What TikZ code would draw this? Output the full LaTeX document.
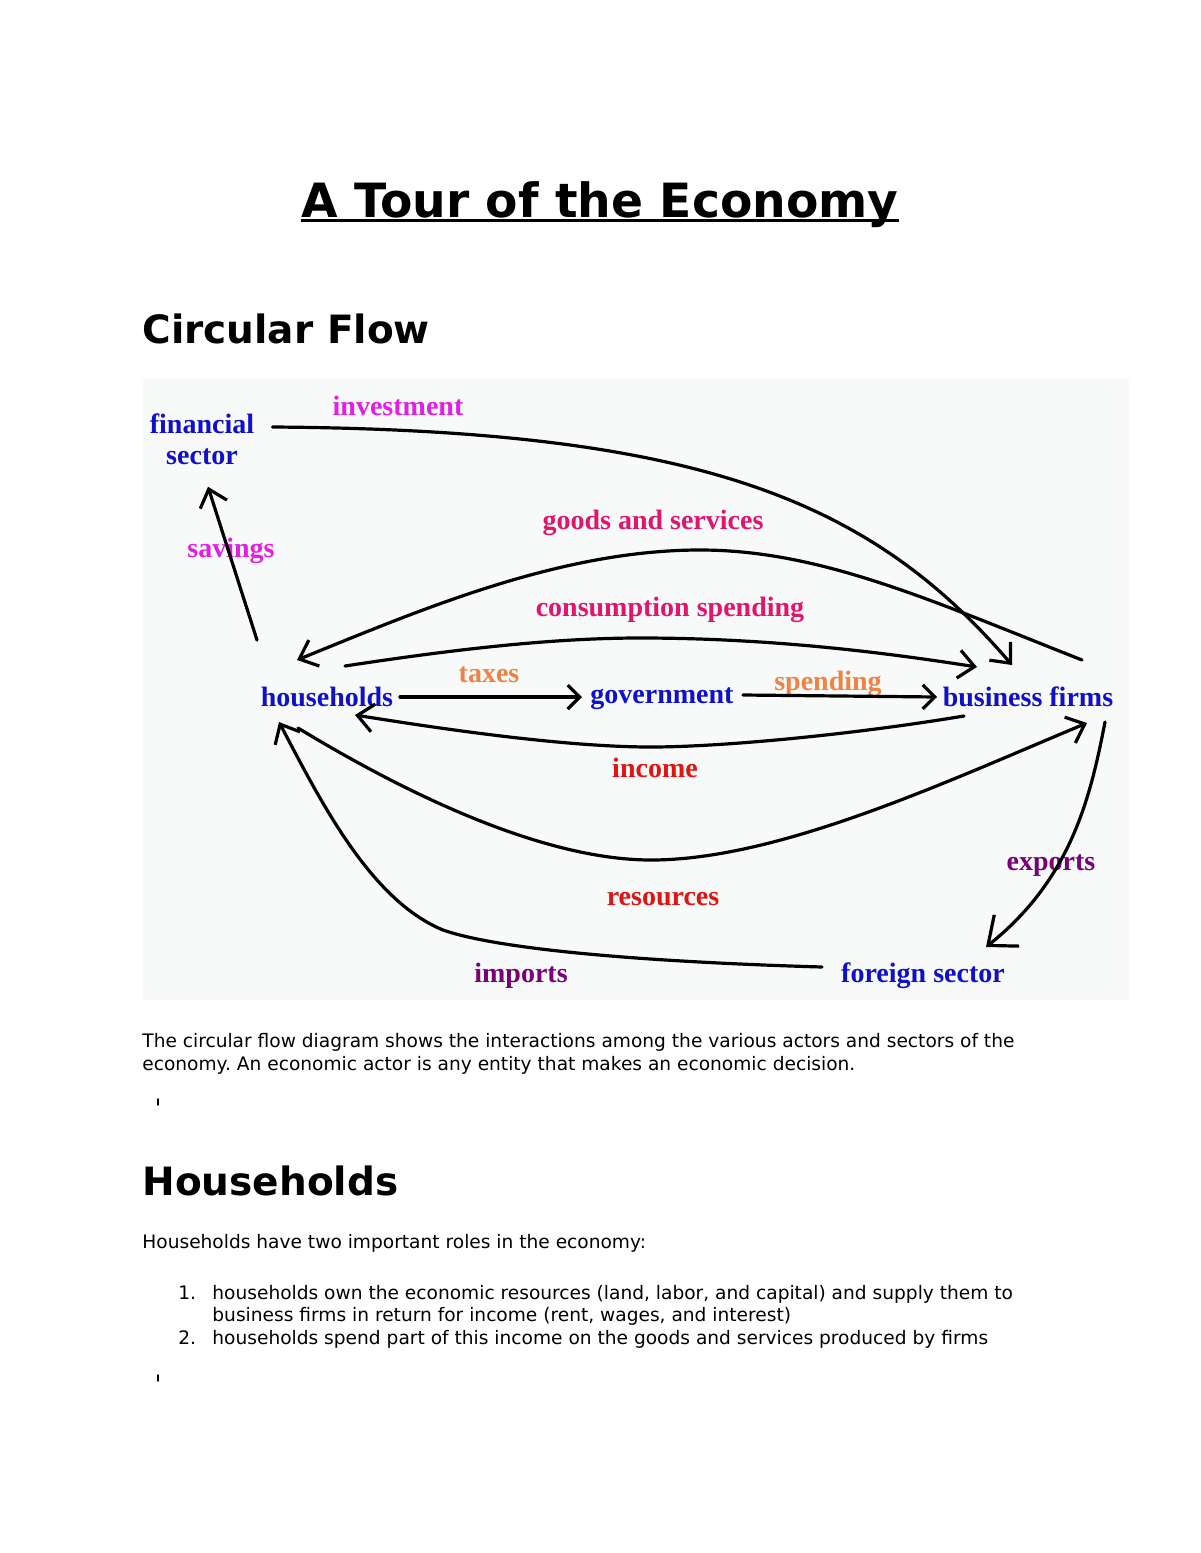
\documentclass[tikz,border=0pt]{standalone}
\usepackage{fontspec}
\setmainfont{DejaVu Sans}
\newfontfamily\flowfont{Liberation Serif}
\usepackage{xcolor}
\usetikzlibrary{arrows.meta, calc}
\frenchspacing

\definecolor{flowbg}{RGB}{247,250,248}
\definecolor{actorblue}{RGB}{16,16,200}
\definecolor{moneymag}{RGB}{228,30,228}
\definecolor{goodscrim}{RGB}{225,20,110}
\definecolor{govorange}{RGB}{240,130,70}
\definecolor{factorred}{RGB}{225,20,20}
\definecolor{tradepurple}{RGB}{120,0,120}

\begin{document}
\begin{tikzpicture}[
    x=0.5pt, y=-0.5pt, line cap=round, line join=round,
    >={Straight Barb[length=8pt, width=14pt]},
    actor/.style={font=\flowfont\bfseries\fontsize{14}{15.5}\selectfont, text=actorblue, inner sep=0pt, anchor=base},
    flowlabel/.style={font=\flowfont\bfseries\fontsize{14}{15.5}\selectfont, inner sep=0pt, anchor=base},
    flow/.style={->, draw=black, line width=1.6pt},
    smallhead/.style={>={Straight Barb[length=6pt, width=12pt]}},
    bighead/.style={>={Straight Barb[length=12pt, width=20pt]}},
    heading/.style={font=\bfseries\fontsize{19.5}{23}\selectfont, inner sep=0pt, anchor=base west},
    bodyline/.style={font=\fontsize{9.3}{11.5}\selectfont, inner sep=0pt, anchor=base west}
]
    \useasboundingbox (0,0) rectangle (1200,1553);

    % page title and heading
    \node[font=\bfseries\fontsize{23.6}{28}\selectfont, inner sep=0pt, anchor=base] (title) at (600,217) {A Tour of the Economy};
    \draw[line width=1.5pt, line cap=butt] ($(title.base west)+(0,3)$) -- ($(title.base east)+(0,3)$);
    \node[heading] (cfhead) at (142,343) {Circular Flow};

    % diagram
    \fill[flowbg] (143,378) rectangle (1129,1000);

    \node[actor, align=center, anchor=north] (fin) at (202,413) {financial\\sector};
    \node[actor] (hh) at (327,706) {households};
    \node[actor] (gov) at (662,703) {government};
    \node[actor] (bf) at (1028,706) {business firms};
    \node[actor] (fs) at (923,982) {foreign sector};

    \node[flowlabel, text=moneymag] (invl) at (398,415) {investment};
    \node[flowlabel, text=moneymag] (savl) at (231,557) {savings};
    \node[flowlabel, text=goodscrim] (gsl) at (653,529) {goods and services};
    \node[flowlabel, text=goodscrim] (csl) at (670,616) {consumption spending};
    \node[flowlabel, text=govorange] (taxl) at (489,682) {taxes};
    \node[flowlabel, text=govorange] (spl) at (828,690) {spending};
    \node[flowlabel, text=factorred] (incl) at (655,777) {income};
    \node[flowlabel, text=factorred] (resl) at (663,905) {resources};
    \node[flowlabel, text=tradepurple] (expl) at (1051,870) {exports};
    \node[flowlabel, text=tradepurple] (impl) at (521,982) {imports};

    % flows
    \draw[flow] ($(hh.base)+(-70,-66)$) -- ($(fin.south)+(6,22)$);
    \draw[flow] ($(fin.north east)+(18,14)$) .. controls (700,430) and (870,500) .. ($(bf.base)+(-16,-41)$);
    \draw[flow] ($(bf.base)+(54,-46)$) .. controls (930,600) and (820,550) .. (700,550)
        .. controls (560,550) and (420,610) .. ($(hh.base)+(-30,-46)$);
    \draw[flow] ($(hh.base)+(18,-40)$) .. controls (450,650) and (550,638) .. (640,638)
        .. controls (780,638) and (900,655) .. ($(bf.base)+(-51,-39)$);
    \draw[flow, smallhead] ($(hh.base)+(73,-9)$) -- ($(gov.base)+(-80,-6)$);
    \draw[flow, smallhead] ($(gov.base)+(81,-8)$) -- ($(bf.base)+(-91,-9)$);
    \draw[flow] ($(bf.base)+(-64,10)$) .. controls (850,735) and (720,747) .. (651,747)
        .. controls (560,747) and (430,727) .. ($(hh.base)+(28,9)$);
    \draw[flow] ($(hh.base)+(-29,22)$) .. controls (400,790) and (540,860) .. (651,860)
        .. controls (780,860) and (950,780) .. ($(bf.base)+(59,17)$);
    \draw[flow] ($(fs.base)+(-101,-15)$) .. controls (650,962) and (500,950) .. (443,930)
        .. controls (370,900) and (320,800) .. ($(hh.base)+(-48,16)$);
    \draw[flow, bighead] ($(bf.base)+(77,16)$) .. controls (1090,800) and (1070,880) .. ($(fs.base)+(63,-35)$);

    % text below the diagram
    \node[bodyline] (p1a) at (142,1047) {The circular flow diagram shows the interactions among the various actors and sectors of the};
    \node[bodyline] (p1b) at (142,1070) {economy. An economic actor is any entity that makes an economic decision.};
    \draw[line width=0.8pt] (158,1099) -- (158,1105);
    \node[heading] (hhhead) at (142,1195) {Households};
    \node[bodyline] (p2) at (142,1248) {Households have two important roles in the economy:};
    \node[bodyline] (n1) at (178,1299) {1.};
    \node[bodyline] (l1a) at (212,1299) {households own the economic resources (land, labor, and capital) and supply them to};
    \node[bodyline] (l1b) at (212,1321) {business firms in return for income (rent, wages, and interest)};
    \node[bodyline] (n2) at (178,1344) {2.};
    \node[bodyline] (l2) at (212,1344) {households spend part of this income on the goods and services produced by firms};
    \draw[line width=0.8pt] (158,1375) -- (158,1381);
\end{tikzpicture}
\end{document}
